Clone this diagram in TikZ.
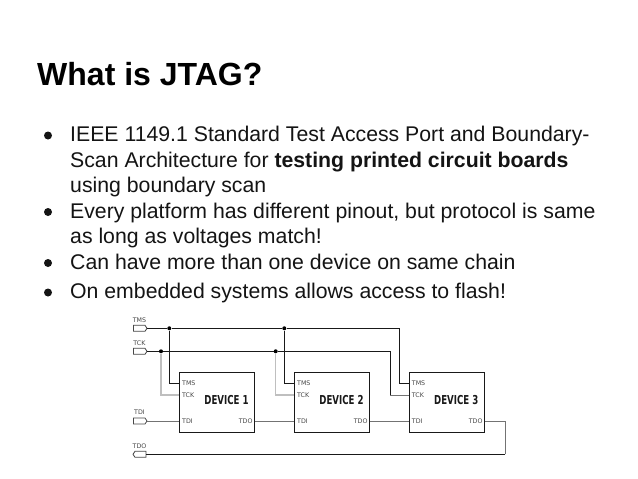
\documentclass[tikz,border=0pt]{standalone}
\usepackage{fontspec}
\setmainfont{Liberation Sans}
\newfontfamily\dejavu{DejaVu Sans}
\newfontfamily\dejacond[FakeStretch=0.7]{DejaVu Sans}
\tikzset{
  x=1pt,y=-1pt,
  title/.style={anchor=base west,inner sep=0pt,font=\bfseries\fontsize{32}{32}\selectfont,text=black},
  body/.style={anchor=base west,inner sep=0pt,font=\fontsize{21.25}{23}\selectfont,text=black!92},
  bullet/.style={circle,fill=black!92,inner sep=0pt,minimum size=8pt},
  device/.style={draw=black!90,line width=0.95pt,fill=white,inner sep=0pt},
  devlabel/.style={font=\dejacond\bfseries\fontsize{12.3}{12.3}\selectfont,inner sep=0pt,text=black!90},
  pin/.style={font=\dejavu\fontsize{6.3}{6.3}\selectfont,inner sep=0pt,text=black!72},
  port/.style={font=\dejavu\fontsize{6.3}{6.3}\selectfont,inner sep=0pt,text=black!72},
  wire/.style={draw=black!90,line width=0.95pt},
  thin wire/.style={draw=black!55,line width=0.8pt},
  pale wire/.style={draw=black!25,line width=1.2pt},
  dot/.style={circle,fill=black,inner sep=0pt,minimum size=4pt},
  portshape/.style={draw=black!72,line width=0.8pt,fill=white}
}
\begin{document}
\begin{tikzpicture}
\useasboundingbox (0,0) rectangle (638,479);
\fill[white] (0,0) rectangle (638,479);
\node[title] (ttl) at (37,85) {What is JTAG?};
\foreach \n/\y in {a/135.5,b/212,c/263,d/292.5}{\node[bullet] (bul\n) at (48,\y) {};}
\node[body] (l1) at (70,141.5) {IEEE 1149.1 Standard Test Access Port and Boundary-};
\node[body] (l2) at (70,167) {Scan Architecture for \textbf{testing printed circuit boards}};
\node[body] (l3) at (70,192) {using boundary scan};
\node[body] (l4) at (70,218) {Every platform has different pinout, but protocol is same};
\node[body] (l5) at (70,243.5) {as long as voltages match!};
\node[body] (l6) at (70,269) {Can have more than one device on same chain};
\node[body] (l7) at (70,298.5) {On embedded systems allows access to flash!};
% ports
\foreach \n/\y in {tms/328.3,tck/351.3,tdi/421}{
  \coordinate (\n) at (147,\y);
  \draw[portshape] (133.5,\y-3) -- (145,\y-3) -- (147,\y) -- (145,\y+3) -- (133.5,\y+3) -- cycle;
}
\coordinate (tdo) at (146,454.3);
\draw[portshape] (135,451.3) -- (146,451.3) -- (146,457.3) -- (135,457.3) -- (133,454.3) -- cycle;
\node[port] (ltms) at (139.5,320.5) {TMS};
\node[port] (ltck) at (139.5,343.5) {TCK};
\node[port] (ltdi) at (139.5,412.5) {TDI};
\node[port] (ltdo) at (139.5,446) {TDO};
% devices
\foreach \n/\l/\r/\t in {1/179.3/253.7/DEVICE 1,2/294.3/368.7/DEVICE 2,3/409/483.7/DEVICE 3}{
  \node[device,minimum width={(\r-\l)*1pt},minimum height=59.7pt,anchor=north west] (dev\n) at (\l,372.3) {};
  \node[devlabel] (name\n) at (\l+47.2,400.5) {\t};
  \node[pin,anchor=west] (tms\n) at (\l+2.7,383.5) {TMS};
  \node[pin,anchor=west] (tck\n) at (\l+2.7,395) {TCK};
  \node[pin,anchor=west] (tdi\n) at (\l+2.7,421) {TDI};
  \node[pin,anchor=east] (tdo\n) at (\r-1,421) {TDO};
}
% junctions
\node[dot] (j1) at (169.3,328.3) {};
\node[dot] (j2) at (284.3,328.3) {};
\node[dot] (k1) at (161,351.3) {};
\node[dot] (k2) at (275.7,351.3) {};
\coordinate (c3) at (399.3,328.3);
\coordinate (d3) at (390.3,351.3);
\coordinate (d4) at (390.3,395);
\coordinate (e) at (505.3,421);
\coordinate (f) at (505.3,454.3);
% wires
\draw[pale wire] (k1) |- (dev1.west|-tck1.west);
\draw[pale wire] (k2) |- (dev2.west|-tck2.west);
\draw[wire] (tms) -- (j1) -- (j2) -- (c3) |- (dev3.west|-tms3.west);
\draw[wire] (j1) |- (dev1.west|-tms1.west);
\draw[wire] (j2) |- (dev2.west|-tms2.west);
\draw[wire] (tck) -- (k1) -- (k2) -- (d3) -- (d4);
\draw[thin wire] (d4) -- (dev3.west|-tck3.west);
\draw[thin wire] (tdi) -- (dev1.west|-tdi1.west);
\draw[thin wire] (dev1.east|-tdo1.east) -- (dev2.west|-tdi2.west);
\draw[thin wire] (dev2.east|-tdo2.east) -- (dev3.west|-tdi3.west);
\draw[thin wire] (dev3.east|-tdo3.east) -- (e) -- (f);
\draw[wire] (f) -- (tdo);
\end{tikzpicture}
\end{document}
